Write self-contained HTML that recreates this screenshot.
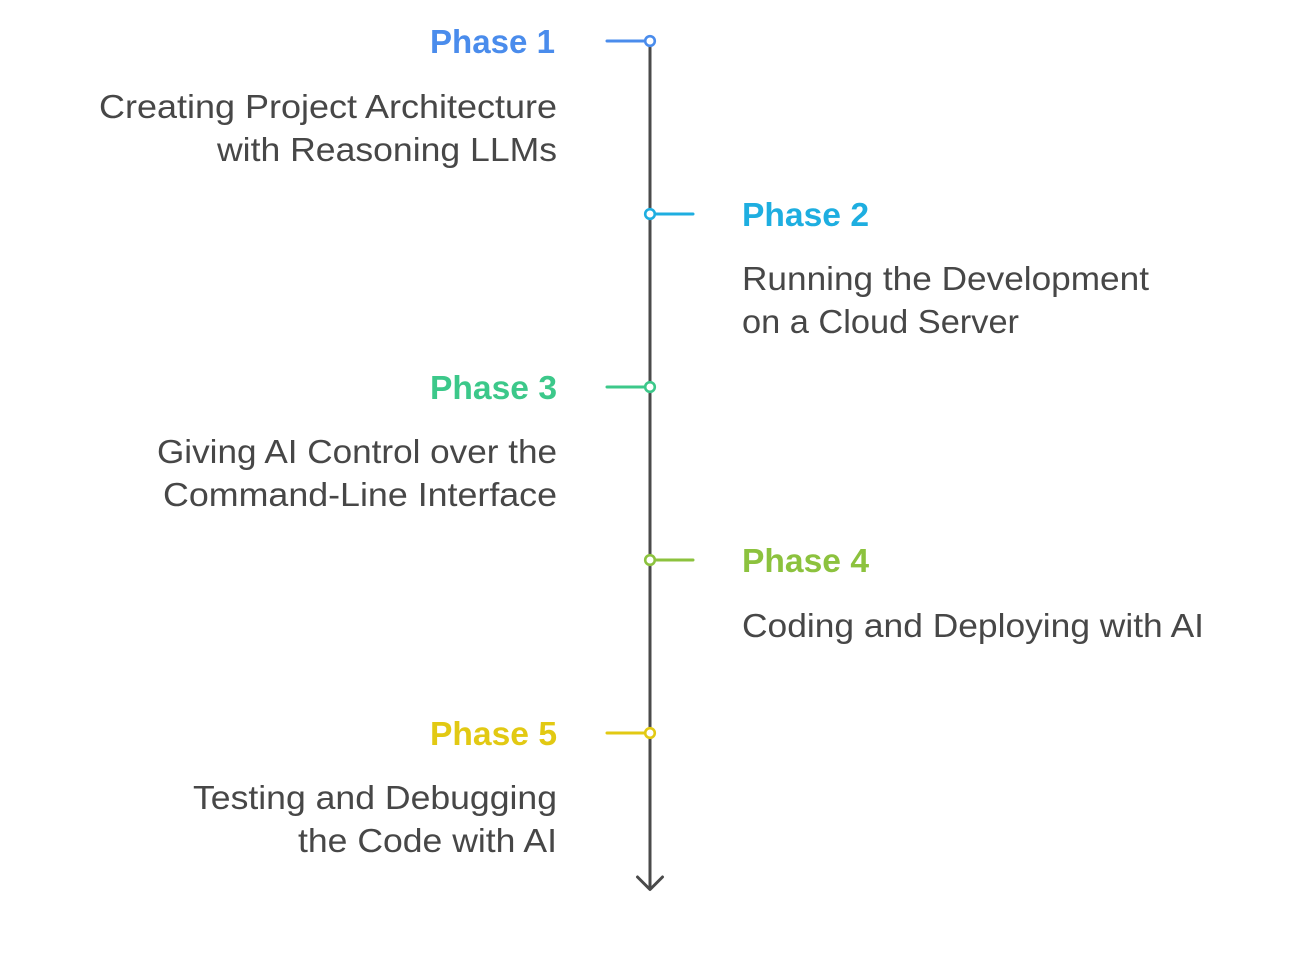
<!DOCTYPE html>
<html>
<head>
<meta charset="utf-8">
<style>
  html, body { margin: 0; padding: 0; background: #ffffff; }
  svg { display: block; }
  .ph { font-family: "Liberation Sans", Arial, sans-serif; font-weight: bold; font-size: 33px; }
  .bd { font-family: "Liberation Sans", Arial, sans-serif; font-size: 33px; fill: #474747; }
</style>
</head>
<body>
<svg width="1300" height="965" viewBox="0 0 1300 965" xmlns="http://www.w3.org/2000/svg">
  <!-- main vertical line -->
  <line x1="650" y1="45" x2="650" y2="888" stroke="#4a4a4a" stroke-width="3"/>
  <polyline points="637.5,877 650,889.5 662.5,877" fill="none" stroke="#4a4a4a" stroke-width="3" stroke-linecap="round" stroke-linejoin="round"/>

  <!-- Phase 1 -->
  <line x1="607" y1="41" x2="645" y2="41" stroke="#4a8cec" stroke-width="3" stroke-linecap="round"/>
  <circle cx="650" cy="41" r="4.8" fill="#fff" stroke="#4a8cec" stroke-width="2.6"/>
  <text class="ph" x="555" y="53" text-anchor="end" fill="#4a8cec" textLength="125" lengthAdjust="spacingAndGlyphs">Phase 1</text>
  <text class="bd" x="557" y="118" text-anchor="end" textLength="458" lengthAdjust="spacingAndGlyphs">Creating Project Architecture</text>
  <text class="bd" x="557" y="161" text-anchor="end" textLength="340" lengthAdjust="spacingAndGlyphs">with Reasoning LLMs</text>

  <!-- Phase 2 -->
  <line x1="655" y1="214" x2="693" y2="214" stroke="#1eaee0" stroke-width="3" stroke-linecap="round"/>
  <circle cx="650" cy="214" r="4.8" fill="#fff" stroke="#1eaee0" stroke-width="2.6"/>
  <text class="ph" x="742" y="226" fill="#1eaee0" textLength="127" lengthAdjust="spacingAndGlyphs">Phase 2</text>
  <text class="bd" x="742" y="290" textLength="407" lengthAdjust="spacingAndGlyphs">Running the Development</text>
  <text class="bd" x="742" y="333" textLength="277" lengthAdjust="spacingAndGlyphs">on a Cloud Server</text>

  <!-- Phase 3 -->
  <line x1="607" y1="387" x2="645" y2="387" stroke="#3cc88a" stroke-width="3" stroke-linecap="round"/>
  <circle cx="650" cy="387" r="4.8" fill="#fff" stroke="#3cc88a" stroke-width="2.6"/>
  <text class="ph" x="557" y="399" text-anchor="end" fill="#3cc88a" textLength="127" lengthAdjust="spacingAndGlyphs">Phase 3</text>
  <text class="bd" x="557" y="463" text-anchor="end" textLength="400" lengthAdjust="spacingAndGlyphs">Giving AI Control over the</text>
  <text class="bd" x="557" y="506" text-anchor="end" textLength="394" lengthAdjust="spacingAndGlyphs">Command-Line Interface</text>

  <!-- Phase 4 -->
  <line x1="655" y1="560" x2="693" y2="560" stroke="#8cc23e" stroke-width="3" stroke-linecap="round"/>
  <circle cx="650" cy="560" r="4.8" fill="#fff" stroke="#8cc23e" stroke-width="2.6"/>
  <text class="ph" x="742" y="572" fill="#8cc23e" textLength="127" lengthAdjust="spacingAndGlyphs">Phase 4</text>
  <text class="bd" x="742" y="637" textLength="462" lengthAdjust="spacingAndGlyphs">Coding and Deploying with AI</text>

  <!-- Phase 5 -->
  <line x1="607" y1="733" x2="645" y2="733" stroke="#e2c913" stroke-width="3" stroke-linecap="round"/>
  <circle cx="650" cy="733" r="4.8" fill="#fff" stroke="#e2c913" stroke-width="2.6"/>
  <text class="ph" x="557" y="745" text-anchor="end" fill="#e2c913" textLength="127" lengthAdjust="spacingAndGlyphs">Phase 5</text>
  <text class="bd" x="557" y="809" text-anchor="end" textLength="364" lengthAdjust="spacingAndGlyphs">Testing and Debugging</text>
  <text class="bd" x="557" y="852" text-anchor="end" textLength="259" lengthAdjust="spacingAndGlyphs">the Code with AI</text>
</svg>
</body>
</html>
